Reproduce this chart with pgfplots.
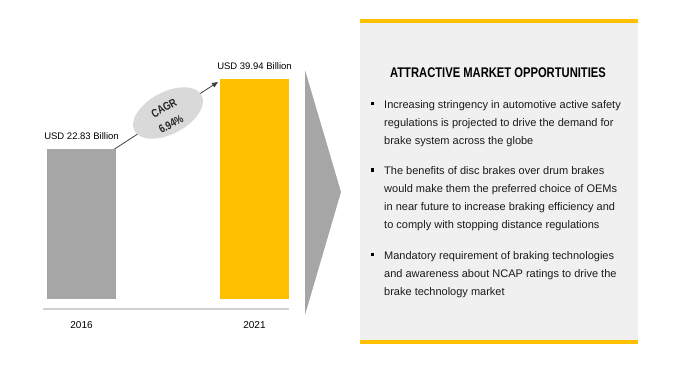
\documentclass[border=0pt]{standalone}
\usepackage{fontspec}
\setmainfont{Liberation Sans}
\newfontfamily\condbold{Liberation Sans Bold}[FakeStretch=0.8]
\usepackage{pgfplots}
\pgfplotsset{compat=1.18}
\usetikzlibrary{shapes.geometric,arrows.meta}
\definecolor{bargray}{HTML}{A6A6A6}
\definecolor{baryellow}{HTML}{FFC000}
\definecolor{panelbg}{HTML}{F0F0F0}
\definecolor{ellgray}{HTML}{D9D9D9}
\definecolor{basegray}{HTML}{D0D0D0}
\definecolor{bodytext}{HTML}{1A1A1A}
\newcommand{\bodyfont}{\fontsize{11bp}{13bp}\selectfont}
\begin{document}
\begin{tikzpicture}
\path[use as bounding box] (0,0) rectangle (678bp,-370bp);
\begin{scope}[x=1bp,y=-1bp]
 \fill[bargray] (305,70) -- (341,192) -- (305,315) -- cycle;
 \fill[panelbg] (360,21) rectangle (638,342);
 \fill[baryellow] (360,19) rectangle (638,23);
 \fill[baryellow] (360,340) rectangle (638,344);
 \fill[basegray] (43,308) rectangle (289,310);
 \draw[line width=0.8bp, black!75, -{Triangle[length=6bp,width=5bp]}] (113,150) -- (218,82);
 \node[ellipse, fill=ellgray, minimum width=76bp, minimum height=42bp, rotate=28, inner sep=0] at (168,113) {};
 \node[rotate=29, inner sep=0, font=\condbold\fontsize{11.5bp}{12bp}\selectfont, text=black!85] at (164,108) {CAGR};
 \node[rotate=29, inner sep=0, font=\condbold\fontsize{11.5bp}{12bp}\selectfont, text=black!85] at (171,124) {6.94\%};
 \node[anchor=base, inner sep=0, font=\condbold\fontsize{14bp}{16bp}\selectfont] at (498,77) {ATTRACTIVE MARKET OPPORTUNITIES};
 \foreach \y in {103.5,170,254.5}{\fill[black] (370.5,\y-1.6) rectangle (373.7,\y+1.6);}
 \begin{scope}[every node/.style={anchor=base west, inner sep=0, font=\bodyfont, text=bodytext}]
 \node at (384,108) {Increasing stringency in automotive active safety};
 \node at (384,126) {regulations is projected to drive the demand for};
 \node at (384,144) {brake system across the globe};
 \node at (384,174.5) {The benefits of disc brakes over drum brakes};
 \node at (384,192.5) {would make them the preferred choice of OEMs};
 \node at (384,210.5) {in near future to increase braking efficiency and};
 \node at (384,228.5) {to comply with stopping distance regulations};
 \node at (384,259) {Mandatory requirement of braking technologies};
 \node at (384,277) {and awareness about NCAP ratings to drive the};
 \node at (384,295) {brake technology market};
 \end{scope}
\end{scope}
\begin{axis}[
 at={(40bp,-299bp)}, anchor=south west,
 scale only axis, width=256bp, height=220bp,
 ymode=log, log origin y=infty, ymin=6.87, ymax=39.94,
 xmin=-0.24, xmax=1.24,
 axis line style={draw=none},
 ytick=\empty, xtick={0,1}, xticklabels={2016,2021},
 major tick length=0pt,
 xticklabel style={font=\fontsize{10bp}{12bp}\selectfont, anchor=center, yshift=-26bp},
 ybar, bar width=0.4, bar shift=0pt,
 nodes near coords, point meta=explicit symbolic,
 nodes near coords style={font=\fontsize{9.5bp}{11bp}\selectfont, anchor=south, yshift=6bp},
 clip=false,
]
\addplot[fill=bargray, draw=none] coordinates {(0,22.83) [USD 22.83 Billion]};
\addplot[fill=baryellow, draw=none] coordinates {(1,39.94) [USD 39.94 Billion]};
\end{axis}
\end{tikzpicture}
\end{document}
